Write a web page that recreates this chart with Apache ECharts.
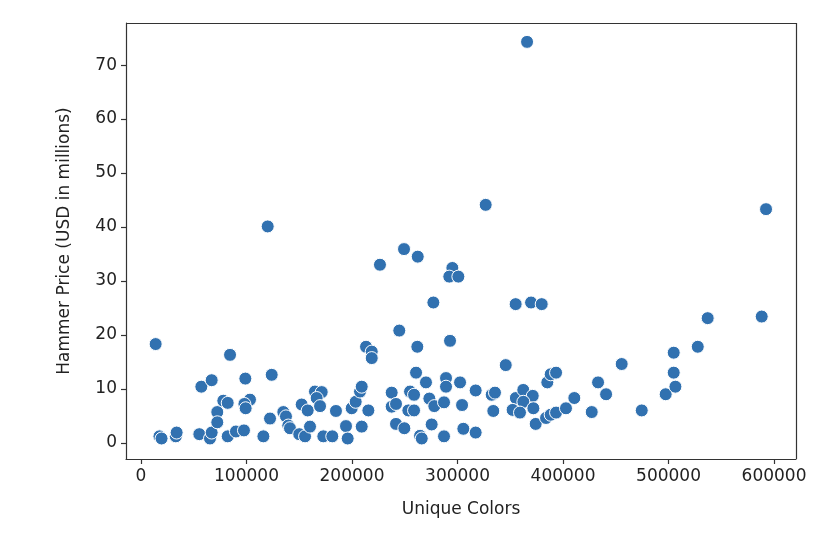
<!DOCTYPE html>
<html lang="en">

<head>
    <meta charset="UTF-8" />
    <title>Unique Colors vs Hammer Price</title>
    <script src="https://cdn.jsdelivr.net/npm/echarts@6/dist/echarts.min.js"></script>
    <style>
        html,
        body {
            padding: 0;
            margin: 0;
            background: #fff;
        }

        #chart {
            width: 836px;
            height: 542px;
        }
    </style>
</head>

<body>
    <div id="chart"></div>
    <script type="text/javascript">
        // unique colours per painting
        var uniqueColors = [
            13900, 17500, 19500, 33000, 33800, 55300, 57200, 67000, 65400, 67000,
            72300, 72300, 78000, 82200, 84400, 82200, 90000, 97600, 98900, 103300,
            98000, 99200, 116000, 122300, 123900, 120100, 134900, 137400, 139600, 141200,
            150000, 155500, 152300, 158000, 160200, 164900, 171300, 166500, 169700, 172800,
            181300, 184800, 194300, 195900, 199700, 203500, 207600, 209200, 215500, 209200,
            213300, 218700, 218700, 226500, 237600, 237600, 241700, 241700, 249600, 244800,
            249300, 262300, 261900, 260700, 270100, 255000, 258800, 253400, 258800, 264500,
            266100, 275500, 273300, 278000, 277100, 287200, 287200, 289100, 289100, 292900,
            295100, 292200, 300800, 302400, 304300, 305500, 317200, 317200, 326700, 332400,
            335500, 333900, 345700, 355100, 369700, 379800, 355300, 362300, 371300, 362400,
            352200, 359200, 371900, 374100, 365900, 385100, 388300, 393400, 383900, 388300,
            393400, 402800, 410700, 427200, 433200, 440800, 455600, 474600, 497300, 504900,
            504900, 506500, 527700, 537100, 588300, 592400
        ];
        // hammer price, USD millions (same order)
        var hammerPrice = [
            18.3, 1.2, 0.8, 1.2, 1.9, 1.6, 10.4, 11.6, 0.8, 1.9,
            5.7, 3.8, 7.8, 7.4, 16.3, 1.2, 2.1, 2.3, 11.9, 8.0,
            7.2, 6.4, 1.2, 4.5, 12.6, 40.1, 5.7, 4.9, 3.2, 2.7,
            1.6, 1.2, 7.1, 6.0, 3.0, 9.5, 9.4, 8.3, 6.8, 1.2,
            1.2, 5.9, 3.1, 0.8, 6.4, 7.6, 9.5, 10.4, 6.0, 3.0,
            17.8, 16.9, 15.7, 33.0, 9.3, 6.7, 7.2, 3.5, 2.7, 20.8,
            35.9, 34.5, 17.8, 13.0, 11.2, 9.5, 8.9, 6.0, 6.0, 1.3,
            0.8, 3.4, 8.2, 6.8, 26.0, 7.5, 1.2, 12.0, 10.4, 18.9,
            32.4, 30.8, 30.8, 11.2, 7.0, 2.6, 1.9, 9.7, 44.1, 8.9,
            9.3, 5.9, 14.4, 25.7, 26.0, 25.7, 8.3, 9.8, 8.7, 7.6,
            6.1, 5.6, 6.4, 3.5, 74.3, 11.2, 12.7, 13.0, 4.6, 5.2,
            5.6, 6.4, 8.3, 5.7, 11.2, 9.0, 14.6, 6.0, 9.0, 16.7,
            13.0, 10.4, 17.8, 23.1, 23.4, 43.3
        ];
        var xTicks = [0, 100000, 200000, 300000, 400000, 500000, 600000];
        var yTicks = [0, 10, 20, 30, 40, 50, 60, 70];

        var points = uniqueColors.map(function (v, i) {
            return [v, hammerPrice[i]];
        });

        var chart = echarts.init(document.getElementById('chart'));
        var font = 'DejaVu Sans';
        var axisColor = '#333';
        var textColor = '#222';

        var option = {
            backgroundColor: '#fff',
            animation: false,
            grid: {
                left: 126,
                right: 40,
                top: 23,
                bottom: 83
            },
            xAxis: {
                type: 'value',
                min: -14200,
                max: 620800,
                name: 'Unique Colors',
                nameLocation: 'middle',
                nameGap: 42,
                nameTextStyle: { fontFamily: font, fontSize: 17, color: textColor },
                axisLine: { show: true, onZero: false, lineStyle: { color: axisColor, width: 1.2 } },
                axisTick: { show: true, length: 5, customValues: xTicks, lineStyle: { color: axisColor, width: 1.2 } },
                axisLabel: {
                    customValues: xTicks,
                    margin: 9,
                    fontFamily: font,
                    fontSize: 17,
                    color: textColor,
                    formatter: function (v) { return String(v); }
                },
                splitLine: { show: false }
            },
            yAxis: {
                type: 'value',
                min: -3,
                max: 77.8,
                name: 'Hammer Price (USD in millions)',
                nameLocation: 'middle',
                nameGap: 53,
                nameTextStyle: { fontFamily: font, fontSize: 17, color: textColor },
                axisLine: { show: true, onZero: false, lineStyle: { color: axisColor, width: 1.2 } },
                axisTick: { show: true, length: 5, customValues: yTicks, lineStyle: { color: axisColor, width: 1.2 } },
                axisLabel: { customValues: yTicks, margin: 9, fontFamily: font, fontSize: 17, color: textColor },
                splitLine: { show: false }
            },
            series: [
                {
                    // top/right spines of the frame
                    type: 'line',
                    data: [],
                    markLine: {
                        silent: true,
                        symbol: 'none',
                        label: { show: false },
                        lineStyle: { type: 'solid', color: axisColor, width: 1.2 },
                        data: [
                            [{ coord: [-14200, 77.8] }, { coord: [620800, 77.8] }],
                            [{ coord: [620800, -3] }, { coord: [620800, 77.8] }]
                        ]
                    }
                },
                {
                    name: 'paintings',
                    type: 'scatter',
                    data: points,
                    symbolSize: 13,
                    itemStyle: {
                        color: '#3171b0',
                        borderColor: '#fff',
                        borderWidth: 1,
                        opacity: 1
                    }
                }
            ]
        };
        chart.setOption(option);
    </script>
</body>

</html>
